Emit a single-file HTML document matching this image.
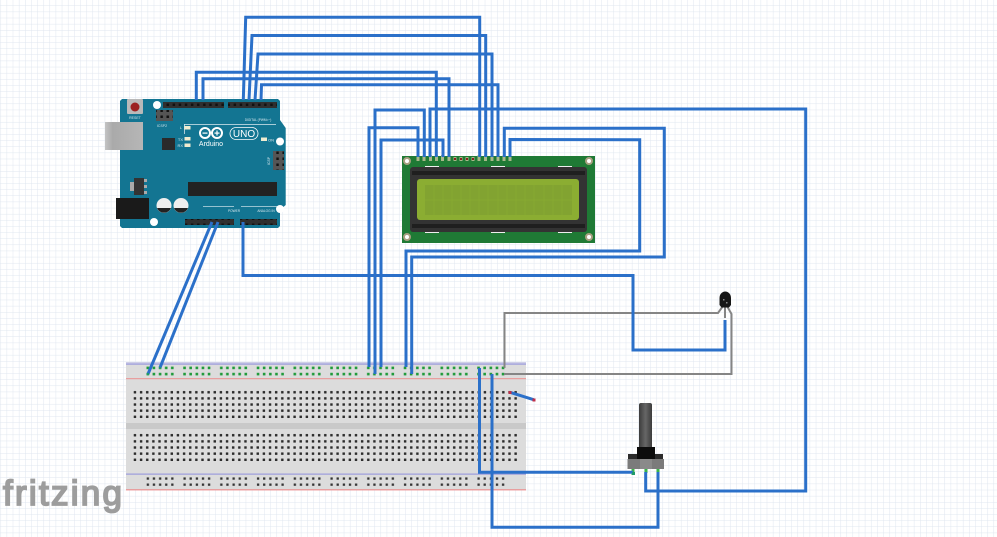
<!DOCTYPE html>
<html><head><meta charset="utf-8"><style>
html,body{margin:0;padding:0;background:#fff;width:997px;height:537px;overflow:hidden}
svg{display:block}
text{font-family:"Liberation Sans",sans-serif}
</style></head><body>
<svg width="997" height="537" viewBox="0 0 997 537" xmlns="http://www.w3.org/2000/svg">
<defs>
<pattern id="grid" x="0.5" y="5.5" width="6.13" height="6.13" patternUnits="userSpaceOnUse"><path d="M0 6.13V0H6.13" fill="none" stroke="#dfe6ef" stroke-width="1"/></pattern>
<pattern id="holes" x="131.9" y="389.2" width="6.14" height="6.14" patternUnits="userSpaceOnUse"><rect x="1.2" y="1.2" width="3.700" height="3.700" fill="#e6e6e6"/><rect x="1.800" y="1.800" width="2.500" height="2.500" fill="#2c2c2c"/></pattern>
<pattern id="hg" x="145.3" y="365.4" width="36.75" height="6.2" patternUnits="userSpaceOnUse">
<g fill="#1f9a3a"><rect x="1.200" y="1.200" width="2.600" height="2.600"/><rect x="7.300" y="1.200" width="2.600" height="2.600"/><rect x="13.500" y="1.200" width="2.600" height="2.600"/><rect x="19.600" y="1.200" width="2.600" height="2.600"/><rect x="25.700" y="1.200" width="2.600" height="2.600"/></g></pattern>
<pattern id="hk" x="145.3" y="476" width="36.75" height="6.1" patternUnits="userSpaceOnUse">
<g fill="#333"><rect x="1.4" y="1.4" width="2.3" height="2.3"/><rect x="7.5" y="1.4" width="2.3" height="2.3"/><rect x="13.7" y="1.4" width="2.3" height="2.3"/><rect x="19.8" y="1.4" width="2.3" height="2.3"/><rect x="25.9" y="1.4" width="2.3" height="2.3"/></g></pattern>
<pattern id="hdr" x="0" y="0" width="6.1" height="6" patternUnits="userSpaceOnUse"><rect x="1.8" y="1.5" width="2.5" height="2.5" fill="#111"/></pattern>
<linearGradient id="usb" x1="0" y1="0" x2="1" y2="0"><stop offset="0" stop-color="#c4c4c4"/><stop offset="0.2" stop-color="#aaa"/><stop offset="1" stop-color="#b6b6b6"/></linearGradient>
<linearGradient id="shaft" x1="0" y1="0" x2="1" y2="0"><stop offset="0" stop-color="#3c3c3c"/><stop offset="0.5" stop-color="#666"/><stop offset="1" stop-color="#3c3c3c"/></linearGradient>
</defs>
<rect width="997" height="537" fill="#fff"/>
<rect width="997" height="537" fill="url(#grid)"/>

<!-- logo -->
<text x="3" y="505" font-size="35" textLength="119" lengthAdjust="spacing" fill="#9d9d9d" stroke="#9d9d9d" stroke-width="1.800">fritzing</text>

<!-- Breadboard -->
<rect x="126" y="362" width="400" height="128" fill="#dcdcdc"/>
<rect x="126" y="362" width="400" height="2" fill="#cfcfe6"/>
<rect x="126" y="423" width="400" height="6" fill="#c9c9c9"/>
<rect x="126" y="363.6" width="400" height="1" fill="#8f8fdc"/>
<rect x="126" y="378.2" width="400" height="1" fill="#ec9090"/>
<rect x="126" y="473.6" width="400" height="1" fill="#8f8fdc"/>
<rect x="126" y="489.2" width="400" height="1.2" fill="#ec9090"/>
<rect x="132" y="389.2" width="387" height="30.7" fill="url(#holes)"/>
<rect x="132" y="432" width="387" height="30.7" fill="url(#holes)"/>
<rect x="145.3" y="365.4" width="365" height="12.4" fill="url(#hg)"/>
<rect x="145.3" y="476" width="365" height="12.2" fill="url(#hk)"/>

<!-- Arduino -->
<path d="M120 101l2-2H278l2 2V120l5.700 8V205l-5.700 5V226l-2 2H122l-2-2Z" fill="#137592"/>
<rect x="105" y="122" width="38" height="28" fill="url(#usb)"/>
<rect x="116" y="198" width="33" height="21" fill="#1a1a1a"/>
<rect x="127" y="99" width="16" height="15" rx="1" fill="#b9b9b9"/>
<circle cx="135" cy="107" r="4.500" fill="#9c2020"/>
<text x="135" y="119" font-size="3.500" fill="#cfe3ea" text-anchor="middle">RESET</text>
<circle cx="157" cy="105" r="4" fill="#fff"/><circle cx="280" cy="141.500" r="4" fill="#fff"/><circle cx="280" cy="209" r="4" fill="#fff"/><circle cx="154" cy="222" r="4" fill="#fff"/>
<rect x="163" y="102" width="61" height="6" fill="#2f2f2f"/><rect x="163" y="102" width="61" height="6" fill="url(#hdr)"/>
<rect x="228" y="102" width="49" height="6" fill="#2f2f2f"/><rect x="228" y="102" width="49" height="6" fill="url(#hdr)"/>
<rect x="185" y="219" width="49" height="6" fill="#2f2f2f"/><rect x="185" y="219" width="49" height="6" fill="url(#hdr)"/>
<rect x="240" y="219" width="37" height="6" fill="#2f2f2f"/><rect x="240" y="219" width="37" height="6" fill="url(#hdr)"/>
<rect x="156" y="110" width="17" height="11" fill="#555"/><rect x="156" y="110" width="17" height="11" fill="url(#hdr)"/>
<rect x="273" y="151" width="11" height="19" fill="#555"/><rect x="273" y="151" width="11" height="19" fill="url(#hdr)"/>
<text x="162" y="127" font-size="3.500" fill="#cfe3ea" text-anchor="middle">ICSP2</text>
<rect x="162" y="138" width="13" height="12" fill="#2a2a2a"/>
<rect x="188" y="182" width="89" height="14" fill="#222"/>
<rect x="130" y="182" width="4" height="9" fill="#aaa"/><rect x="134" y="178" width="10" height="17" fill="#333"/><rect x="144" y="179" width="3" height="3" fill="#aaa"/><rect x="144" y="185" width="3" height="3" fill="#aaa"/><rect x="144" y="191" width="3" height="3" fill="#aaa"/>
<circle cx="164" cy="205.500" r="7.500" fill="#eee"/><path d="M157 208a7.500 7.500 0 0 0 14 0Z" fill="#222"/>
<circle cx="181" cy="205.500" r="7.500" fill="#eee"/><path d="M174 208a7.500 7.500 0 0 0 14 0Z" fill="#222"/>
<rect x="184" y="124" width="92" height="0.8" fill="#cfe3ea"/>
<rect x="184" y="124" width="0.8" height="10" fill="#cfe3ea"/>
<rect x="184.500" y="126" width="6" height="3.500" fill="#f0ecd0"/>
<text x="182" y="129" font-size="4" fill="#d8e8ee" text-anchor="end">L</text>
<rect x="184.500" y="137" width="6" height="3.500" fill="#f0ecd0"/>
<rect x="184.500" y="143.500" width="6" height="3.500" fill="#f0ecd0"/>
<text x="183" y="141" font-size="4" fill="#d8e8ee" text-anchor="end">TX</text>
<text x="183" y="147" font-size="4" fill="#d8e8ee" text-anchor="end">RX</text>
<rect x="261" y="137.500" width="6" height="3.500" fill="#f0ecd0"/>
<text x="268" y="141.500" font-size="4" fill="#d8e8ee">ON</text>
<text x="258" y="121" font-size="3.200" fill="#d8e8ee" text-anchor="middle">DIGITAL (PWM=~)</text>
<text x="234" y="212" font-size="3.200" fill="#d8e8ee" text-anchor="middle">POWER</text>
<text x="266" y="212" font-size="3.200" fill="#d8e8ee" text-anchor="middle">ANALOG IN</text>
<rect x="203" y="206" width="31" height="0.7" fill="#cfe3ea"/><rect x="241" y="206" width="36" height="0.7" fill="#cfe3ea"/>
<text x="270" y="165" font-size="3.500" fill="#d8e8ee" transform="rotate(-90 270 165)">ICSP</text>
<g fill="none" stroke="#fff" stroke-width="2"><circle cx="205" cy="133" r="5"/><circle cx="217" cy="133" r="5"/></g>
<rect x="202.500" y="132.500" width="5" height="1.200" fill="#fff"/><rect x="214.500" y="132.500" width="5" height="1.200" fill="#fff"/><rect x="216.400" y="130.500" width="1.200" height="5" fill="#fff"/>
<rect x="230" y="127.500" width="28" height="12" rx="6" fill="none" stroke="#fff" stroke-width="0.800"/>
<text x="244" y="137" font-size="10" fill="#fff" text-anchor="middle">UNO</text>
<text x="211" y="146" font-size="7" fill="#fff" text-anchor="middle">Arduino</text>

<!-- LCD -->
<rect x="402" y="156" width="193" height="87" fill="#1f7a35"/>
<rect x="410" y="167" width="177" height="65" rx="3" fill="#333"/>
<rect x="412" y="171" width="173" height="4" fill="#1f1f1f"/>
<rect x="412" y="224" width="173" height="4" fill="#1f1f1f"/>
<rect x="417" y="179" width="162" height="41" rx="3" fill="#8bad32"/>
<rect x="425" y="185" width="147" height="30" fill="#82a331"/>
<g stroke="#8bad32" stroke-width="0.500">
<path d="M425 200H572M434 185V215M443 185V215M452 185V215M461 185V215M470 185V215M479 185V215M488 185V215M498 185V215M507 185V215M516 185V215M525 185V215M534 185V215M544 185V215M553 185V215M562 185V215"/></g>
<g fill="#eee"><rect x="425" y="166" width="14" height="1"/><rect x="491" y="166" width="14" height="1"/><rect x="558" y="166" width="14" height="1"/><rect x="425" y="232" width="14" height="1"/><rect x="491" y="232" width="14" height="1"/><rect x="558" y="232" width="14" height="1"/></g>
<g fill="#fff" stroke="#a89f80" stroke-width="2"><circle cx="407" cy="161" r="3"/><circle cx="589" cy="161" r="3"/><circle cx="407" cy="237" r="3"/><circle cx="589" cy="237" r="3"/></g>
<g fill="#a8b88a"><rect x="416.500" y="155" width="3" height="6"/><rect x="422.500" y="155" width="3" height="6"/><rect x="429" y="155" width="3" height="6"/><rect x="435" y="155" width="3" height="6"/><rect x="441" y="155" width="3" height="6"/><rect x="447.500" y="155" width="3" height="6"/><rect x="453.500" y="157" width="3" height="4"/><rect x="459.500" y="157" width="3" height="4"/><rect x="465.500" y="157" width="3" height="4"/><rect x="471.500" y="157" width="3" height="4"/><rect x="477.500" y="155" width="3" height="6"/><rect x="484" y="155" width="3" height="6"/><rect x="490.500" y="155" width="3" height="6"/><rect x="496.500" y="155" width="3" height="6"/><rect x="502.500" y="155" width="3" height="6"/><rect x="508.500" y="155" width="3" height="6"/></g>
<g fill="#8a1f1f"><rect x="454" y="158" width="2" height="2"/><rect x="460" y="158" width="2" height="2"/><rect x="466" y="158" width="2" height="2"/><rect x="472" y="158" width="2" height="2"/></g>

<!-- Potentiometer -->
<rect x="639" y="403" width="13" height="46" rx="2" fill="url(#shaft)"/>
<rect x="628" y="454" width="35" height="6" fill="#2b2b2b"/>
<rect x="637" y="447" width="18" height="13" fill="#0c0c0c"/>
<rect x="627.500" y="459" width="36.500" height="10" fill="#7b7b7b"/>
<rect x="640" y="459" width="12" height="10" fill="#8a8a8a"/>
<g fill="#39b54a"><rect x="631.500" y="469" width="3" height="6"/><rect x="644.500" y="469" width="3" height="4"/><rect x="656.500" y="469" width="3" height="4"/></g>

<!-- Transistor + gray wires -->
<g fill="none" stroke="#858585" stroke-width="2" stroke-linejoin="miter">
<path d="M504.500 368V313H718L723 306"/>
<path d="M504 374H731.500V314L727 306"/>
<path d="M725 306V318"/>
</g>
<path d="M719.500 298a5.750 6.500 0 0 1 11.500 0V305l-2 2.500H721.500l-2-2.500Z" fill="#161616"/>
<rect x="723" y="299" width="1.500" height="1.500" fill="#888"/><rect x="726" y="302" width="1.500" height="1.500" fill="#888"/>

<!-- Blue wires -->
<g fill="none" stroke="#2b70c9" stroke-width="3" stroke-linejoin="miter">
<path d="M243.300 100L245.700 17.300H479.700V157"/>
<path d="M249 100L252 35.500H485.700V157"/>
<path d="M255 100L258 54H492V157"/>
<path d="M196.300 100V72.300H436.300V157"/>
<path d="M203 100V78.700H449V157"/>
<path d="M261 100L261.500 84.700H498V157"/>
<path d="M375 374V110H424.300V157"/>
<path d="M369 367V127.700H418V157"/>
<path d="M381 367V140H443V157"/>
<path d="M430 157V109H805.700V491H645.700V472"/>
<path d="M504.300 157V128.300H664.300V257H411.700V374"/>
<path d="M510 157V139.500L639.700 139.700V251H406V367"/>
<path d="M243 222V275.500H633V350H725V320"/>
<path d="M212 222L148 374"/>
<path d="M218 222L160 367.700"/>
<path d="M479.500 368V472.300H633"/>
<path d="M492 374V527.300H658V472"/>
<path d="M510 392.300L533.700 399.700"/>
</g>
<g fill="#c0304a"><rect x="508.500" y="391" width="3" height="3"/><rect x="532.500" y="398.500" width="3" height="3"/></g>
<g fill="#1f9a6a"><rect x="147" y="373" width="2" height="2"/><rect x="159" y="367" width="2" height="2"/><rect x="632" y="472" width="3" height="3"/></g>
</svg>
</body></html>
